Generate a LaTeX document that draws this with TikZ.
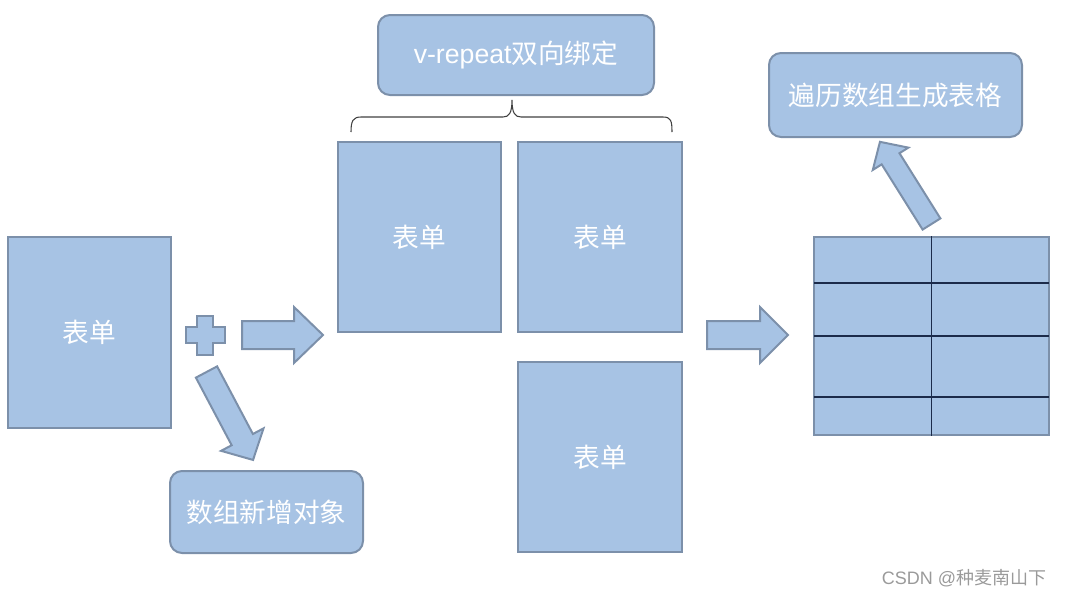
\documentclass[tikz,border=0pt]{standalone}
\usepackage{fontspec}
\newfontfamily\cjk{Noto Sans CJK SC}
\newfontfamily\latinfont{Liberation Sans}
\usepackage{tikz}
\usetikzlibrary{
  positioning % 节点相对定位
}
\definecolor{boxfill}{HTML}{A7C3E4}
\definecolor{boxedge}{HTML}{7C90AA}
\definecolor{gridline}{HTML}{1C2B4A}
\definecolor{markgray}{HTML}{9A9A9A}
\tikzset{
  form box/.style={
    draw=boxedge,
    fill=boxfill,
    line width=1.5pt,
    text=white,
    font=\cjk\fontsize{20}{24}\selectfont,
    inner sep=0pt
  },
  step box/.style={
    form box,
    rounded corners=9pt
  },
  fat arrow/.style={
    draw=boxedge,
    fill=boxfill,
    line width=1.5pt,
    line join=miter
  },
  grid line/.style={
    draw=gridline,
    line width=0.9pt
  },
  group brace/.style={
    draw=black!75,
    line width=0.8pt
  }
}
% 粗箭头：#1 长度，#2 箭身半宽，#3 箭头半宽，#4 箭头长度
\newcommand{\fatarrow}[4]{%
  \draw[fat arrow] (0,-#2) -- ({#1-#4},-#2) -- ({#1-#4},-#3) -- (#1,0)
    -- ({#1-#4},#3) -- ({#1-#4},#2) -- (0,#2) -- cycle;
}

\begin{document}
\begin{tikzpicture}[x=0.75pt, y=-0.75pt]
    \useasboundingbox (0,0) rectangle (1065,597);

    % 1. 左侧表单与新增对象
    \node[form box, minimum width=122.25pt, minimum height=143.25pt] (form1) at (89.5,332.5) {表单};
    \node[step box, minimum width=144.75pt, minimum height=61.5pt] (addobj) at (266.5,512) {数组新增对象};

    % 加号
    \begin{scope}[shift={(205,335)}]
      \draw[fat arrow] (-8,-19.5) -- (8,-19.5) -- (8,-8) -- (19.5,-8) -- (19.5,8) -- (8,8)
        -- (8,19.5) -- (-8,19.5) -- (-8,8) -- (-19.5,8) -- (-19.5,-8) -- (-8,-8) -- cycle;
    \end{scope}

    % 向右箭头
    \begin{scope}[shift={(242,335)}]
      \fatarrow{81}{14}{28}{29}
    \end{scope}

    % 斜向下箭头 (指向新增对象)
    \begin{scope}[shift={(206.5,372)}, rotate=-62.1]
      \fatarrow{99.5}{12}{24}{23}
    \end{scope}

    % 2. 中间三个表单与双向绑定
    \node[form box, minimum width=122.25pt, minimum height=142.5pt] (form2) at (419.5,237) {表单};
    \node[form box, minimum width=123pt, minimum height=142.5pt] (form3) at (600,237) {表单};
    \node[form box, minimum width=123pt, minimum height=142.5pt, below=21pt of form3] (form4) {表单};
    \node[step box, minimum width=207pt, minimum height=60pt] (vrepeat) at (516,55)
      {{\latinfont v-repeat}双向绑定};

    % 大括号
    \draw[group brace] (351,132) .. controls (351,121) and (353,117) .. (361,117)
      -- (503,117) .. controls (509,117) and (512,113) .. (512,100)
      .. controls (512,113) and (515,117) .. (521,117)
      -- (663,117) .. controls (671,117) and (672,121) .. (672,132);

    % 向右箭头
    \begin{scope}[shift={(707,335)}]
      \fatarrow{81}{14}{28}{28}
    \end{scope}

    % 3. 右侧表格与生成表格
    \node[form box, minimum width=176.25pt, minimum height=148.5pt] (tbl) at (931.5,336) {};
    \draw[grid line] (tbl.north) -- (tbl.south);
    \foreach \r in {283,336,397}
      \draw[grid line] (814,\r) -- (1049,\r);

    \node[step box, minimum width=189.75pt, minimum height=63pt] (travel) at (895.5,95) {遍历数组生成表格};

    % 斜向上箭头
    \begin{scope}[shift={(931.5,224)}, rotate=122.1]
      \fatarrow{97}{10.5}{21}{20}
    \end{scope}

    % 水印
    \node[text=markgray, font=\fontsize{13.5}{16}\selectfont] (mark) at (964,578)
      {{\latinfont CSDN @}{\cjk 种麦南山下}};

\end{tikzpicture}
\end{document}
